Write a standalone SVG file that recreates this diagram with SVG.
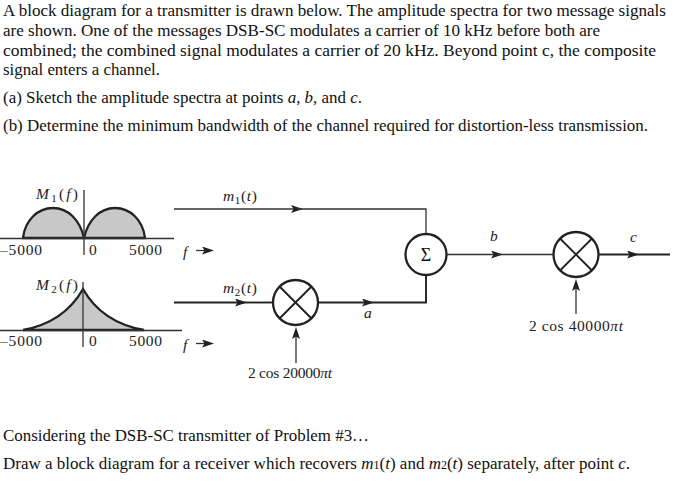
<svg xmlns="http://www.w3.org/2000/svg" width="692" height="485" viewBox="0 0 692 485">
<defs>
<marker id="ah" viewBox="0 0 12 8" refX="6" refY="4" markerWidth="12" markerHeight="8" markerUnits="userSpaceOnUse" orient="auto"><path d="M0 0L12 4L0 8L2.500 4Z" fill="#222"/></marker>
</defs>
<style>
text{font-family:"Liberation Serif",serif;fill:#111}
.q{font-size:17px}
.t{font-size:15.5px;fill:#222}
.i{font-style:italic}
.l{stroke:#333;stroke-width:1.3;fill:none}
.k{stroke:#222;stroke-width:1.9;fill:none}
.c{stroke:#222;stroke-width:2.300;fill:#fff}
.s{fill:#c8c8c8;stroke:#222;stroke-width:2.300}
</style>
<rect width="692" height="485" fill="#fff"/>
<g id="question">
<text class="q" x="3" y="16" textLength="663" lengthAdjust="spacingAndGlyphs">A block diagram for a transmitter is drawn below.  The amplitude spectra for two message signals</text>
<text class="q" x="3" y="36" textLength="597" lengthAdjust="spacingAndGlyphs">are shown.  One of the messages DSB-SC modulates a carrier of 10 kHz before both are</text>
<text class="q" x="3" y="56" textLength="653" lengthAdjust="spacingAndGlyphs">combined; the combined signal modulates a carrier of 20 kHz.  Beyond point c, the composite</text>
<text class="q" x="3" y="75" textLength="157" lengthAdjust="spacingAndGlyphs">signal enters a channel.</text>
<text class="q" x="3" y="103" textLength="359" lengthAdjust="spacingAndGlyphs">(a)  Sketch the amplitude spectra at points <tspan class="i">a</tspan>, <tspan class="i">b</tspan>, and <tspan class="i">c</tspan>.</text>
<text class="q" x="3" y="131" textLength="645" lengthAdjust="spacingAndGlyphs">(b)  Determine the minimum bandwidth of the channel required for distortion-less transmission.</text>
</g>
<g id="spectrum-m1">
<path class="s" d="M23 238C25 220 38 208 53 208C68 208 80 220 84 238C88 220 100 208 115 208C130 208 143 220 145 238Z"/>
<path class="l" d="M0 238.500H174M84 190V255"/>
<text class="t i" x="36" y="199" textLength="42" lengthAdjust="spacing">M<tspan font-size="11" dy="3" font-style="normal">1</tspan><tspan dy="-3" font-style="normal">(</tspan>f<tspan font-style="normal">)</tspan></text>
<text class="t" x="0" y="255" textLength="42">–5000</text>
<text class="t" x="89" y="255">0</text>
<text class="t" x="129" y="255" textLength="33">5000</text>
<text class="t i" x="183" y="257">f</text>
<path class="l" d="M196 250.500H208" marker-end="url(#ah)"/>
</g>
<g id="spectrum-m2">
<path class="s" d="M23 330C50 325 70 312 83 289C96 312 116 325 144 330Z"/>
<path class="l" d="M0 330.500H182M83 282V347"/>
<text class="t i" x="36" y="290" textLength="42" lengthAdjust="spacing">M<tspan font-size="11" dy="3" font-style="normal">2</tspan><tspan dy="-3" font-style="normal">(</tspan>f<tspan font-style="normal">)</tspan></text>
<text class="t" x="0" y="346" textLength="42">–5000</text>
<text class="t" x="89" y="346">0</text>
<text class="t" x="129" y="346" textLength="33">5000</text>
<text class="t i" x="183" y="350">f</text>
<path class="l" d="M196 343.500H208" marker-end="url(#ah)"/>
</g>
<g id="connectors">
<path class="l" d="M174 209H297" marker-end="url(#ah)"/>
<path class="l" d="M297 209H426V234"/>
<path class="k" d="M174 302.500H241" marker-end="url(#ah)"/>
<path class="k" d="M241 302.500H273"/>
<path class="k" d="M319 302.500H368" marker-end="url(#ah)"/>
<path class="k" d="M368 302.500H426V275"/>
<path class="l" d="M447 254.500H497" marker-end="url(#ah)"/>
<path class="l" d="M497 254.500H553"/>
<path class="k" d="M599 254.500H633" marker-end="url(#ah)"/>
<path class="k" d="M633 254.500H670"/>
<path class="l" d="M296 363V333" marker-end="url(#ah)"/>
<path class="l" d="M576 314V285" marker-end="url(#ah)"/>
</g>
<g id="mixer-1"><circle class="c" cx="295.500" cy="302.500" r="22.500"/><path class="k" d="M279.500 286.500L311.500 318.500M311.500 286.500L279.500 318.500"/></g>
<g id="summer"><circle class="c" cx="426" cy="254.500" r="20.500"/><text x="426" y="261" text-anchor="middle" font-size="18" fill="#222">Σ</text></g>
<g id="mixer-2"><circle class="c" cx="576" cy="254.500" r="22.500"/><path class="k" d="M560 238.500L592 270.500M592 238.500L560 270.500"/></g>
<g id="labels">
<text class="t i" x="223" y="201" textLength="34" lengthAdjust="spacing">m<tspan font-size="11" dy="3" font-style="normal">1</tspan><tspan dy="-3" font-style="normal">(</tspan>t<tspan font-style="normal">)</tspan></text>
<text class="t i" x="223" y="293" textLength="34" lengthAdjust="spacing">m<tspan font-size="11" dy="3" font-style="normal">2</tspan><tspan dy="-3" font-style="normal">(</tspan>t<tspan font-style="normal">)</tspan></text>
<text class="t i" x="364" y="318">a</text>
<text class="t i" x="490" y="241">b</text>
<text class="t i" x="630" y="242">c</text>
<text class="t" x="248" y="378" textLength="84">2 cos 20000<tspan class="i">πt</tspan></text>
<text class="t" x="529" y="331" textLength="94">2 cos 40000<tspan class="i">πt</tspan></text>
</g>
<g id="follow-up">
<text class="q" x="3" y="441" textLength="366" lengthAdjust="spacingAndGlyphs">Considering the DSB-SC transmitter of Problem #3…</text>
<text class="q" x="3" y="469">Draw a block diagram for a receiver which recovers <tspan class="i">m</tspan><tspan font-size="12">1</tspan>(<tspan class="i">t</tspan>) and <tspan class="i">m</tspan><tspan font-size="12">2</tspan>(<tspan class="i">t</tspan>) separately, after point <tspan class="i">c</tspan>.</text>
</g>
</svg>
